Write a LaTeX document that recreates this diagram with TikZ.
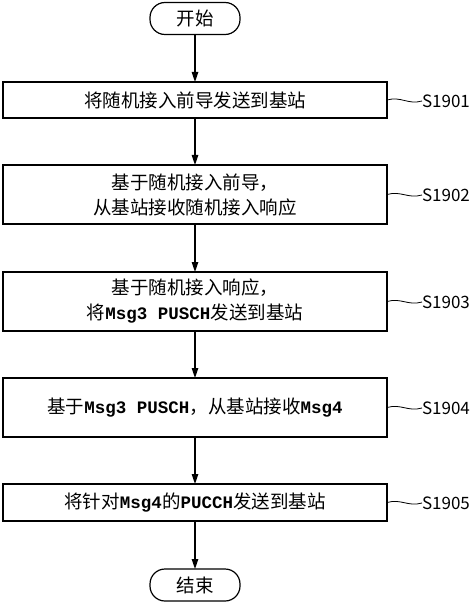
\documentclass[tikz,border=0pt]{standalone}
\usepackage{fontspec}
\setmainfont{Noto Sans CJK SC}
\newfontfamily\latfont{Liberation Mono}
\usetikzlibrary{arrows.meta}
\newcommand\lt[1]{{\latfont\bfseries\fontsize{17.5bp}{25bp}\selectfont #1}}
\begin{document}
\begin{tikzpicture}[x=1bp,y=-1bp,
  every node/.style={inner sep=0pt,outer sep=0pt},
  txt/.style={font=\fontsize{18.5bp}{25bp}\selectfont,align=center},
  term/.style={txt,draw,line width=1.2bp,rounded corners=15bp,minimum width=90bp,minimum height=32bp},
  stepbox/.style={txt,draw,line width=1.5bp,minimum width=384bp},
  lab/.style={anchor=west,font=\fontsize{17bp}{20bp}\selectfont},
  flow/.style={line width=1.2bp,-{Triangle[length=10bp,width=6.5bp]}},
  tie/.style={line width=0.8bp}]
\useasboundingbox (0,0) rectangle (474,604);
\node[term] (start) at (195,18.5) {开始};
\node[stepbox,minimum height=36bp] (b1) at (195,100) {将随机接入前导发送到基站};
\node[stepbox,minimum height=59bp] (b2) at (195,194.5) {基于随机接入前导，\\从基站接收随机接入响应};
\node[stepbox,minimum height=59bp] (b3) at (195,301.5) {基于随机接入响应，\\将\lt{Msg3 PUSCH}发送到基站};
\node[stepbox,minimum height=59bp] (b4) at (195,407.5) {基于\lt{Msg3 PUSCH}，从基站接收\lt{Msg4}};
\node[stepbox,minimum height=37bp] (b5) at (195,502.5) {将针对\lt{Msg4}的\lt{PUCCH}发送到基站};
\node[term] (end) at (195,585) {结束};
\draw[flow] (start) -- (b1);
\draw[flow] (b1) -- (b2);
\draw[flow] (b2) -- (b3);
\draw[flow] (b3) -- (b4);
\draw[flow] (b4) -- (b5);
\draw[flow] (b5) -- (end);
\node[lab] (l1) at (422,101) {S1901};
\node[lab] (l2) at (422,195) {S1902};
\node[lab] (l3) at (422,302) {S1903};
\node[lab] (l4) at (422,408) {S1904};
\node[lab] (l5) at (422,503) {S1905};
\foreach \i in {1,...,5}{
  \draw[tie] (b\i.east) .. controls +(14,-4) and +(-14,4) .. (l\i.west);
}
\end{tikzpicture}
\end{document}
